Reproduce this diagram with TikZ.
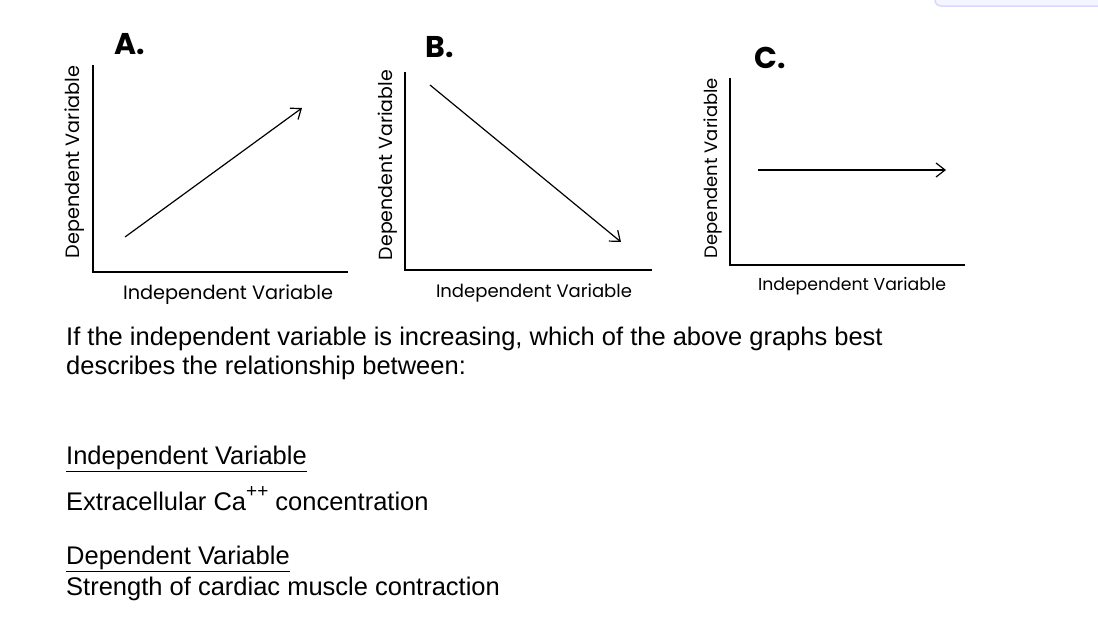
\documentclass[tikz,border=0pt]{standalone}
\usepackage{fontspec}
\setmainfont{Liberation Sans}
\newfontfamily\gfont{Poppins}
\usetikzlibrary{arrows.meta}
\newcommand{\glbl}[2]{\resizebox{#1pt}{!}{\gfont\fontsize{14}{16}\selectfont #2}}
\begin{document}
\begin{tikzpicture}[x=1pt,y=-1pt,
  axis/.style={line width=2.2pt},
  arr/.style={line width=1.2pt,-{Straight Barb[length=9pt,width=14pt]}},
  lbl/.style={inner sep=0},
  ttl/.style={font=\gfont\fontsize{30}{32}\selectfont\bfseries,inner sep=0},
  body/.style={font=\fontsize{25.5}{29}\selectfont,inner sep=0,anchor=west}]
\useasboundingbox (0,0) rectangle (1098,616);
\fill[white] (0,0) rectangle (1098,616);
\draw[draw=blue!15,fill=blue!4,rounded corners=6pt,line width=1.5pt] (935,-10) rectangle (1110,6);
% A
\coordinate (a0) at (93,272);
\draw[axis] (93,65) -- (a0) -- (348,272);
\coordinate (as) at (125,237); \coordinate (ae) at (302,108);
\draw[arr] (as) -- (ae);
\node[ttl] (at) at (130,44) {A.};
\node[lbl,rotate=90] (ad) at (75,162) {\glbl{193}{Dependent Variable}};
\node[lbl] (ai) at (228,295) {\glbl{210}{Independent Variable}};
% B
\coordinate (b0) at (405,270);
\draw[axis] (405,72) -- (b0) -- (652,270);
\coordinate (bs) at (430,85); \coordinate (be) at (621,242);
\draw[arr] (bs) -- (be);
\node[ttl] (bt) at (440,47) {B.};
\node[lbl,rotate=90] (bd) at (388,165) {\glbl{190}{Dependent Variable}};
\node[lbl] (bi) at (534,293) {\glbl{196}{Independent Variable}};
% C
\coordinate (c0) at (730,265);
\draw[axis] (730,78) -- (c0) -- (965,265);
\coordinate (cs) at (758,170); \coordinate (ce) at (946,170);
\draw[arr] (cs) -- (ce);
\node[ttl] (ct) at (770,58) {C.};
\node[lbl,rotate=90] (cd) at (713,168) {\glbl{180}{Dependent Variable}};
\node[lbl] (ci) at (852,286) {\glbl{188}{Independent Variable}};
% text
\node[body] (q1) at (66,339) {If the independent variable is increasing, which of the above graphs best};
\node[body] (q2) at (66,368) {describes the relationship between:};
\node[body] (iv) at (66,459) {\underline{Independent Variable}};
\node[body] (ca) at (66,499) {Extracellular Ca\raisebox{0.5em}{\fontsize{19}{20}\selectfont ++} concentration};
\node[body] (dv) at (66,559) {\underline{Dependent Variable}};
\node[body] (st) at (66,589) {Strength of cardiac muscle contraction};
\end{tikzpicture}
\end{document}
